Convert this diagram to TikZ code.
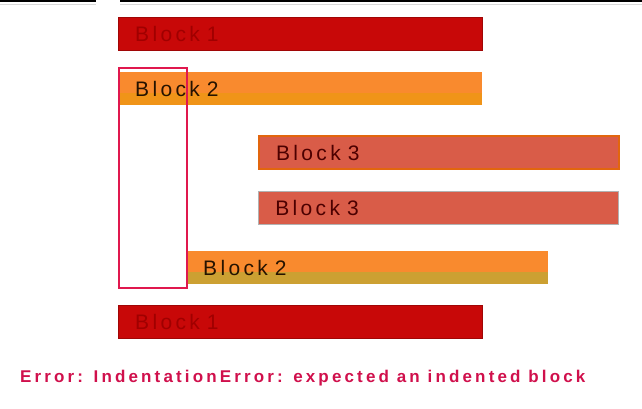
\documentclass[tikz,border=0pt]{standalone}
\usepackage{fontspec}
\setmainfont{Liberation Sans}
\newfontfamily\blockfont[LetterSpace=16,WordSpace=1.3]{Liberation Sans}
\newfontfamily\errorfont[LetterSpace=18.5]{Liberation Sans Bold}

\definecolor{blockred}{HTML}{C80808}
\definecolor{blockredtext}{HTML}{A00000}
\definecolor{blockorange}{HTML}{F98A2E}
\definecolor{bandorange}{HTML}{F09418}
\definecolor{bandgold}{HTML}{CCA032}
\definecolor{blockcoral}{HTML}{D95C48}
\definecolor{stripeorange}{HTML}{E2660E}
\definecolor{framecrimson}{HTML}{E0184E}
\definecolor{errortext}{HTML}{D0104C}

\begin{document}
\begin{tikzpicture}[x=1pt, y=-1pt,
    block/.style={anchor=north west, inner xsep=17pt, inner ysep=0pt,
        minimum height=33pt, text width=330pt, align=left,
        font=\blockfont\fontsize{21}{23}\selectfont},
    redblock/.style={block, fill=blockred, draw=blockred!80!black, text=blockredtext},
    orangeblock/.style={block, fill=blockorange, text=black!85!orange,
        path picture={\fill[#1] ([yshift=12pt]path picture bounding box.south west)
            rectangle (path picture bounding box.south east);}},
    coralblock/.style={block, fill=blockcoral, text=black!70!red, text width=326pt}]
    \useasboundingbox (0,0) rectangle (642,409);

    \draw[line width=1.5pt] (0,1) -- (96,1) (120,1) -- (642,1);
    \draw[black!15] (0,4.5) -- (96,4.5) (120,4.5) -- (642,4.5);

    \node[redblock] (top1) at (118,17) {Block 1};
    \node[orangeblock=bandorange] (outer2) at (118,72) {Block 2};
    \node[coralblock, draw=stripeorange, line width=2pt] (inner3a) at (258,135) {Block 3};
    \node[coralblock, draw=black!30, line width=0.6pt] (inner3b) at (258,191) {Block 3};
    \node[orangeblock=bandgold, text width=328pt] (outer2b) at (186,251) {Block 2};
    \node[redblock] (bottom1) at (118,305) {Block 1};

    \node[draw=framecrimson, line width=2pt, anchor=north west, inner sep=0pt,
        minimum width=68pt, minimum height=220pt] (frame) at (118,67) {};

    \node[anchor=base west, inner sep=0pt, text=errortext,
        font=\errorfont\fontsize{17}{19}\selectfont] (error) at (20,382)
        {Error: IndentationError: expected an indented block};
\end{tikzpicture}
\end{document}
